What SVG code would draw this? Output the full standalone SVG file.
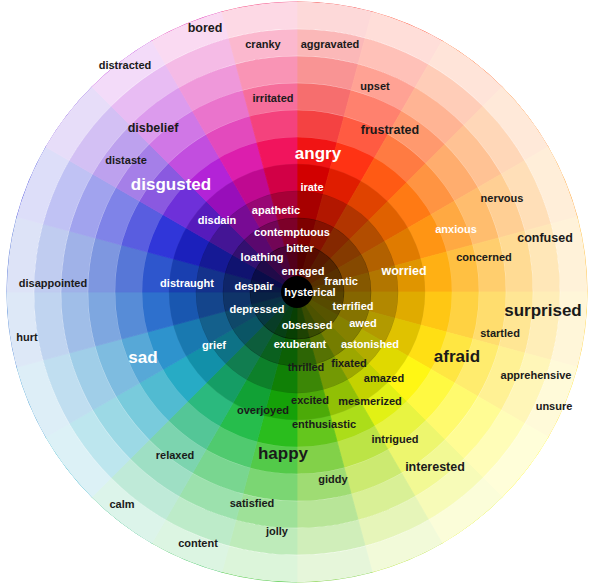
<svg xmlns="http://www.w3.org/2000/svg" width="610" height="584" viewBox="0 0 610 584">
<style>
.w{stroke-width:0.8}
text{font-family:"Liberation Sans",Arial,sans-serif;font-weight:bold;font-size:11px;text-anchor:middle;fill:#1a1a1a}
.wt{fill:#fff}
.m{font-size:12.5px}
.b{font-size:17px}
</style>
<rect width="610" height="584" fill="#fff"/>
<g id="wedges">
<path class="w" fill="hsl(0,100%,47%)" stroke="hsl(0,100%,47%)" d="M297 292L297 2A290 290 0 0 1 372.1 11.9Z"/>
<path class="w" fill="hsl(8,100%,50%)" stroke="hsl(8,100%,50%)" d="M297 292L372.1 11.9A290 290 0 0 1 442 40.9Z"/>
<path class="w" fill="hsl(18,100%,50%)" stroke="hsl(18,100%,50%)" d="M297 292L442 40.9A290 290 0 0 1 502.1 86.9Z"/>
<path class="w" fill="hsl(26,100%,50%)" stroke="hsl(26,100%,50%)" d="M297 292L502.1 86.9A290 290 0 0 1 548.1 147Z"/>
<path class="w" fill="hsl(33,100%,50%)" stroke="hsl(33,100%,50%)" d="M297 292L548.1 147A290 290 0 0 1 577.1 216.9Z"/>
<path class="w" fill="hsl(40,100%,50%)" stroke="hsl(40,100%,50%)" d="M297 292L577.1 216.9A290 290 0 0 1 587 292Z"/>
<path class="w" fill="hsl(46,100%,50%)" stroke="hsl(46,100%,50%)" d="M297 292L587 292A290 290 0 0 1 577.1 367.1Z"/>
<path class="w" fill="hsl(52,100%,50%)" stroke="hsl(52,100%,50%)" d="M297 292L577.1 367.1A290 290 0 0 1 548.1 437Z"/>
<path class="w" fill="hsl(58,100%,50%)" stroke="hsl(58,100%,50%)" d="M297 292L548.1 437A290 290 0 0 1 502.1 497.1Z"/>
<path class="w" fill="hsl(64,100%,47%)" stroke="hsl(64,100%,47%)" d="M297 292L502.1 497.1A290 290 0 0 1 442 543.1Z"/>
<path class="w" fill="hsl(75,95%,44%)" stroke="hsl(75,95%,44%)" d="M297 292L442 543.1A290 290 0 0 1 372.1 572.1Z"/>
<path class="w" fill="hsl(95,90%,40%)" stroke="hsl(95,90%,40%)" d="M297 292L372.1 572.1A290 290 0 0 1 297 582Z"/>
<path class="w" fill="hsl(115,90%,38%)" stroke="hsl(115,90%,38%)" d="M297 292L297 582A290 290 0 0 1 221.9 572.1Z"/>
<path class="w" fill="hsl(135,80%,40%)" stroke="hsl(135,80%,40%)" d="M297 292L221.9 572.1A290 290 0 0 1 152 543.1Z"/>
<path class="w" fill="hsl(155,75%,40%)" stroke="hsl(155,75%,40%)" d="M297 292L152 543.1A290 290 0 0 1 91.9 497.1Z"/>
<path class="w" fill="hsl(190,80%,42%)" stroke="hsl(190,80%,42%)" d="M297 292L91.9 497.1A290 290 0 0 1 45.9 437Z"/>
<path class="w" fill="hsl(202,75%,45%)" stroke="hsl(202,75%,45%)" d="M297 292L45.9 437A290 290 0 0 1 16.9 367.1Z"/>
<path class="w" fill="hsl(215,75%,45%)" stroke="hsl(215,75%,45%)" d="M297 292L16.9 367.1A290 290 0 0 1 7 292Z"/>
<path class="w" fill="hsl(225,75%,45%)" stroke="hsl(225,75%,45%)" d="M297 292L7 292A290 290 0 0 1 16.9 216.9Z"/>
<path class="w" fill="hsl(238,75%,48%)" stroke="hsl(238,75%,48%)" d="M297 292L16.9 216.9A290 290 0 0 1 45.9 147Z"/>
<path class="w" fill="hsl(262,75%,48%)" stroke="hsl(262,75%,48%)" d="M297 292L45.9 147A290 290 0 0 1 91.9 86.9Z"/>
<path class="w" fill="hsl(288,85%,45%)" stroke="hsl(288,85%,45%)" d="M297 292L91.9 86.9A290 290 0 0 1 152 40.9Z"/>
<path class="w" fill="hsl(315,90%,45%)" stroke="hsl(315,90%,45%)" d="M297 292L152 40.9A290 290 0 0 1 221.9 11.9Z"/>
<path class="w" fill="hsl(340,100%,47%)" stroke="hsl(340,100%,47%)" d="M297 292L221.9 11.9A290 290 0 0 1 297 2Z"/>
</g>
<g id="rings" fill="none" stroke-width="27.4">
<circle cx="297" cy="292" r="276.5" stroke="#fff" stroke-opacity="0.85"/>
<circle cx="297" cy="292" r="249.5" stroke="#fff" stroke-opacity="0.72"/>
<circle cx="297" cy="292" r="222.5" stroke="#fff" stroke-opacity="0.58"/>
<circle cx="297" cy="292" r="195.5" stroke="#fff" stroke-opacity="0.43"/>
<circle cx="297" cy="292" r="168.5" stroke="#fff" stroke-opacity="0.26"/>
<circle cx="297" cy="292" r="141.5" stroke="#fff" stroke-opacity="0.08"/>
<circle cx="297" cy="292" r="114.5" stroke="#000" stroke-opacity="0.12"/>
<circle cx="297" cy="292" r="87.5" stroke="#000" stroke-opacity="0.3"/>
<circle cx="297" cy="292" r="60.5" stroke="#000" stroke-opacity="0.48"/>
<circle cx="297" cy="292" r="31" stroke="#000" stroke-opacity="0.66" stroke-width="32.4"/>
<circle cx="297" cy="292" r="16" fill="#000" stroke="none"/>
</g>
<g id="labels">
<text class="wt b" x="318" y="159">angry</text>
<text x="330" y="48">aggravated</text>
<text x="375" y="90">upset</text>
<text class="m" x="390" y="134">frustrated</text>
<text class="wt" x="312" y="191">irate</text>
<text x="502" y="202">nervous</text>
<text class="wt" x="456" y="233">anxious</text>
<text class="m" x="545" y="242">confused</text>
<text x="484" y="261">concerned</text>
<text class="wt m" x="404" y="275">worried</text>
<text class="wt" x="341" y="285">frantic</text>
<text class="wt" x="310" y="296">hysterical</text>
<text class="wt" x="303" y="275">enraged</text>
<text class="wt" x="300" y="252">bitter</text>
<text class="wt" x="292" y="236">contemptuous</text>
<text class="wt" x="276" y="214">apathetic</text>
<text class="wt" x="262" y="261">loathing</text>
<text class="wt" x="254" y="290">despair</text>
<text class="wt" x="187" y="287">distraught</text>
<text x="53" y="287">disappointed</text>
<text class="wt" x="217" y="224">disdain</text>
<text class="wt b" x="171" y="190">disgusted</text>
<text x="126" y="164">distaste</text>
<text class="m" x="153" y="132">disbelief</text>
<text x="125" y="69">distracted</text>
<text class="m" x="205" y="32">bored</text>
<text x="263" y="48">cranky</text>
<text x="273" y="102">irritated</text>
<text class="wt" x="257" y="313">depressed</text>
<text class="wt" x="307" y="329">obsessed</text>
<text class="wt" x="353" y="310">terrified</text>
<text class="wt" x="363" y="327">awed</text>
<text class="wt" x="300" y="348">exuberant</text>
<text class="wt" x="370" y="348">astonished</text>
<text class="wt" x="214" y="349">grief</text>
<text class="wt b" x="143" y="363">sad</text>
<text x="27" y="341">hurt</text>
<text x="306" y="371">thrilled</text>
<text x="349" y="367">fixated</text>
<text x="384" y="382">amazed</text>
<text class="b" x="457" y="362">afraid</text>
<text class="b" x="543" y="316">surprised</text>
<text x="500" y="337">startled</text>
<text x="536" y="379">apprehensive</text>
<text x="554" y="410">unsure</text>
<text x="310" y="404">excited</text>
<text x="370" y="405">mesmerized</text>
<text x="263" y="414">overjoyed</text>
<text x="324" y="428">enthusiastic</text>
<text x="395" y="443">intrigued</text>
<text x="175" y="459">relaxed</text>
<text class="b" x="283" y="459">happy</text>
<text class="m" x="435" y="471">interested</text>
<text x="333" y="483">giddy</text>
<text x="252" y="507">satisfied</text>
<text x="122" y="508">calm</text>
<text x="277" y="535">jolly</text>
<text x="198" y="547">content</text>
</g>
</svg>
